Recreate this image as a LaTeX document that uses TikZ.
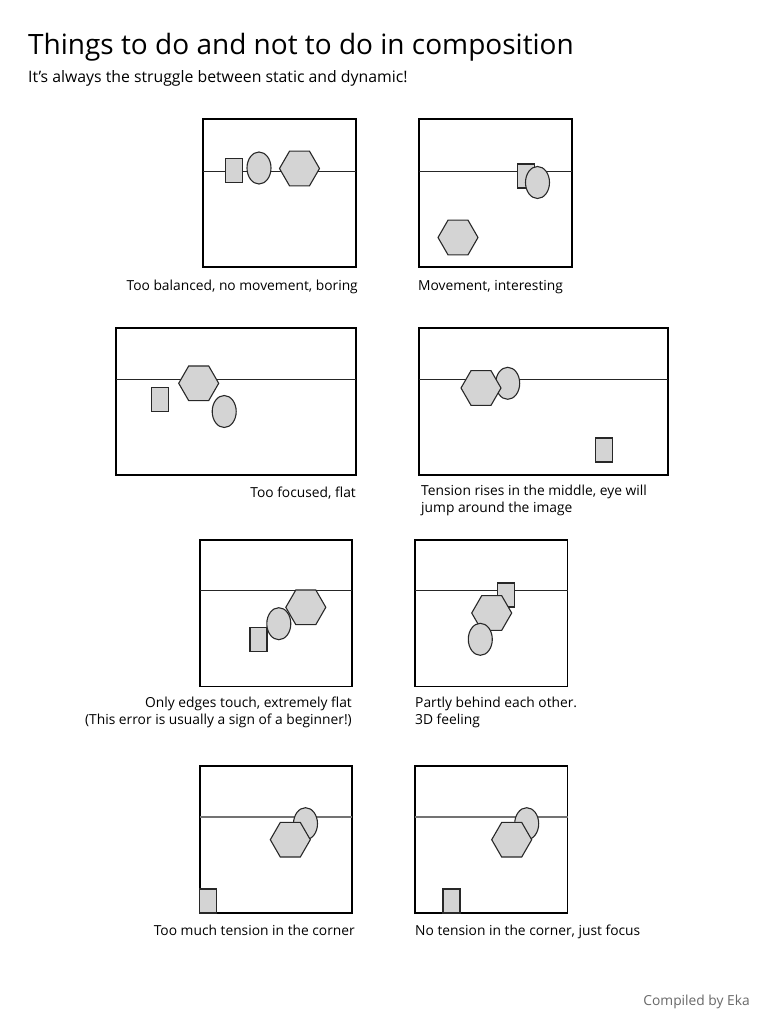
\documentclass[tikz,border=0pt]{standalone}
\usepackage{fontspec}
\setmainfont{Open Sans}
\usetikzlibrary{shapes.geometric}

\definecolor{shapefill}{RGB}{212,212,212}
\definecolor{shapeline}{RGB}{40,40,40}
\definecolor{creditgray}{RGB}{105,105,105}

\begin{document}
\begin{tikzpicture}[
    x=1pt, y=-1pt,
    % panels and their horizon lines
    frame/.style={draw=black, line width=1.2pt},
    horizon/.style={draw=black!85, line width=0.9pt},
    horizonlow/.style={draw=black!55, line width=1.4pt},
    % the three objects
    obj/.style={draw=shapeline, fill=shapefill, line width=1.1pt, inner sep=0pt, outer sep=0pt},
    hexa/.style={obj, regular polygon, regular polygon sides=6, minimum size=40pt},
    oval/.style={obj, ellipse, minimum width=24pt, minimum height=32pt},
    block/.style={obj, rectangle, minimum width=17pt, minimum height=24pt},
    % texts
    title/.style={font=\fontsize{28}{33}\selectfont, inner sep=0pt, anchor=base west},
    subtitle/.style={font=\fontsize{15.8}{19}\selectfont, inner sep=0pt, anchor=base west},
    caption/.style={font=\fontsize{13.8}{17}\selectfont, inner sep=0pt},
  ]

  % Page locked to the 768 x 1024 reference
  \fill[white] (0,0) rectangle (768,1024);
  \useasboundingbox (0,0) rectangle (768,1024);

  % ---------------------------------------------------------
  % HEADER
  % ---------------------------------------------------------
  \node[title] (head) at (28,55) {Things to do and not to do in composition};
  \node[subtitle] (sub) at (28,83) {It’s always the struggle between static and dynamic!};

  % ---------------------------------------------------------
  % ROW 1
  % ---------------------------------------------------------
  \draw[frame] (203,119) rectangle (356,267);
  \draw[horizon] (203,171) -- (356,171);
  \node[block] (sqA) at (234,170.5) {};
  \node[oval] (ovA) at (259,168) {};
  \node[hexa] (hxA) at (299.5,168.5) {};
  \node[caption, anchor=base east] (capA) at (358,290) {Too balanced, no movement, boring};

  \draw[frame] (419,119) rectangle (572,267);
  \draw[horizon] (419,171) -- (572,171);
  \node[block] (sqB) at (526,176) {};
  \node[oval] (ovB) at (537.5,182.5) {};
  \node[hexa] (hxB) at (458,237.5) {};
  \node[caption, anchor=base west] (capB) at (418,290) {Movement, interesting};

  % ---------------------------------------------------------
  % ROW 2
  % ---------------------------------------------------------
  \draw[frame] (116,328) rectangle (356,475);
  \draw[horizon] (116,379) -- (356,379);
  \node[block] (sqC) at (160,399.5) {};
  \node[hexa] (hxC) at (198.7,383.3) {};
  \node[oval] (ovC) at (224.2,411.5) {};
  \node[caption, anchor=base east] (capC) at (356,497) {Too focused, flat};

  \draw[frame] (419,328) rectangle (668,475);
  \draw[horizon] (419,379) -- (668,379);
  \node[oval] (ovD) at (507.7,383.3) {};
  \node[hexa] (hxD) at (481,388) {};
  \node[block] (sqD) at (604,450) {};
  % base of a two-line node is its last line
  \node[caption, anchor=base west, align=left] (capD) at (421,512)
    {Tension rises in the middle, eye will\\jump around the image};

  % ---------------------------------------------------------
  % ROW 3
  % ---------------------------------------------------------
  \draw[frame] (200,540) rectangle (352,686.5);
  \draw[horizon] (200,590) -- (352,590);
  \node[block] (sqE) at (258.5,639.3) {};
  \node[oval] (ovE) at (278.8,623.7) {};
  \node[hexa] (hxE) at (305.8,607.3) {};
  \node[caption, anchor=base east, align=right] (capE) at (352,724)
    {Only edges touch, extremely flat\\(This error is usually a sign of a beginner!)};

  \draw[frame] (415,540) rectangle (567.5,686.5);
  \draw[horizon] (415,590) -- (567.5,590);
  \node[block] (sqF) at (506,595) {};
  \node[hexa] (hxF) at (491.7,613) {};
  \node[oval] (ovF) at (480.3,639.3) {};
  \node[caption, anchor=base west, align=left] (capF) at (415,724)
    {Partly behind each other.\\3D feeling};

  % ---------------------------------------------------------
  % ROW 4
  % ---------------------------------------------------------
  \draw[frame] (200,766) rectangle (352,913);
  \draw[horizonlow] (200,817) -- (352,817);
  \node[oval] (ovG) at (305.5,823.7) {};
  \node[hexa] (hxG) at (290.3,839.7) {};
  \node[block] (sqG) at (208,901) {};
  \node[caption, anchor=base east] (capG) at (355,935) {Too much tension in the corner};

  \draw[frame] (415,766) rectangle (567.5,913);
  \draw[horizonlow] (415,817) -- (567.5,817);
  \node[oval] (ovH) at (526.7,823.7) {};
  \node[hexa] (hxH) at (511.7,839.7) {};
  \node[block] (sqH) at (451.5,901) {};
  \node[caption, anchor=base west] (capH) at (415,935) {No tension in the corner, just focus};

  % Credit line
  \node[caption, anchor=base east, text=creditgray] (credit) at (750,1005) {Compiled by Eka};

\end{tikzpicture}
\end{document}
